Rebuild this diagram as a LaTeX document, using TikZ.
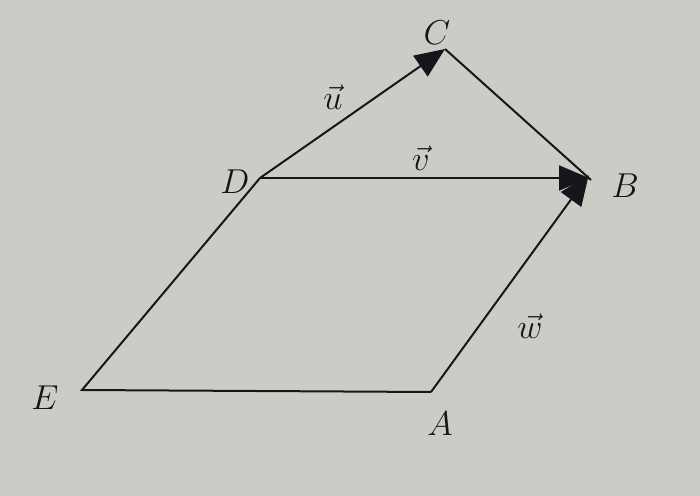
\documentclass[tikz,border=0pt]{standalone}
\usetikzlibrary{arrows.meta}
\definecolor{paper}{RGB}{204,204,199}
\definecolor{ink}{RGB}{22,22,26}
\begin{document}
\begin{tikzpicture}[x=0.5pt,y=-0.5pt,
    vec/.style={-{Triangle[length=15pt,width=12.5pt]},line width=1pt,ink},
    seg/.style={line width=1pt,ink,line join=miter},
    lbl/.style={font=\fontsize{19}{21}\selectfont,text=ink,inner sep=0pt}]
        % Background
        \fill[paper] (0,0) rectangle (700,496);
        \useasboundingbox (0,0) rectangle (700,496);

        % Points
        \coordinate (E) at (82,390);
        \coordinate (A) at (431,392);
        \coordinate (B) at (591,180);
        \coordinate (C) at (445,49);
        \coordinate (D) at (260,178);

        % Sides
        \draw[seg] (A) -- (E) -- (D);
        \draw[seg] (C) -- (B);

        % Vectors
        \draw[vec] (D) -- (C);
        \draw[vec,shorten >=1pt] (D) -- ([yshift=1pt]B);
        \draw[vec,shorten >=2pt] (A) -- ([yshift=4pt]B);

        % Labels for the points and vectors
        \node[lbl] (lE) at (45,398) {$E$};
        \node[lbl] (lA) at (440,424) {$A$};
        \node[lbl] (lB) at (625,186) {$B$};
        \node[lbl] (lC) at (437,33) {$C$};
        \node[lbl] (lD) at (235,182) {$D$};
        \node[lbl] (lu) at (333,97) {$\vec{u}$};
        \node[lbl] (lv) at (421,158) {$\vec{v}$};
        \node[lbl] (lw) at (530,326) {$\vec{w}$};
    \end{tikzpicture}
\end{document}
